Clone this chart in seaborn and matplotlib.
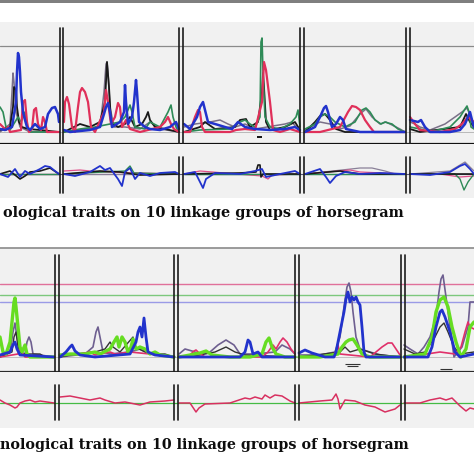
import numpy as np
import pandas as pd
import matplotlib
matplotlib.use("Agg")
import matplotlib.pyplot as plt
import seaborn as sns

# ---------------- data ----------------
caption_top = "ological traits on 10 linkage groups of horsegram"
caption_bottom = "nological traits on 10 linkage groups of horsegram"

# linkage-group separators (position pairs of the double lines)
p1_separators = [(60, 63.5), (179.5, 183), (300.5, 304.5), (406.5, 410)]
p2_separators = [(55, 59), (174, 178), (295, 299), (401, 405)]

p1_threshold = 4.3
p2_thresholds = [3.65, 3.1, 2.75]

# panel 1 LOD curves (position, LOD)
p1_red = [(0,.4),(6,.1),(8,.25),(10,0),(21,.1),(23,1.5),(25,1.6),(27,.5),(29,0),(32,.15),(34,1.1),(36,1.2),(38,.4),(41,.1),(43,.75),(45,.5),(47,0),(59,0),
          (64,.5),(65,1.5),(67,1.75),(69,1.4),(72,.25),(75,0),(78,1.25),(80,2.0),(82,2.2),(85,2.0),(88,1.5),(91,.25),(95,0),(104,1.0),(106,2.1),(108,1.5),(111,.4),(115,.75),(118,1.45),(120,1.25),(122,.25),(126,.6),(130,.15),(140,0),(160,.25),(165,.5),(168,.75),(171,.4),(174,.15),(179,0),
          (184,0),(190,0),(195,.75),(198,1.1),(200,1.0),(202,.25),(205,0),(230,0),(236,.1),(245,.15),(255,.1),(262,1.5),(264,3.5),(266,3.1),(270,1.5),(273,.1),(280,0),(290,.15),(300,0),
          (305,0),(320,0),(340,.25),(348,1.0),(352,1.3),(356,1.25),(360,1.1),(365,.6),(370,.25),(374,0),(380,0),(405,0),
          (410,.75),(415,.4),(420,.1),(440,0),(455,.15),(462,.4),(468,.75),(474,.5)]
p1_blue = [(0,.15),(5,.1),(12,.25),(16,1.5),(17,3.0),(18,3.95),(19,3.75),(20,3.0),(21,2.0),(22,1.5),(23,1.0),(25,.6),(27,.25),(30,.1),(35,.4),(40,.15),(45,.25),(48,.9),(52,1.2),(55,1.25),(58,.9),(59,.5),
           (64,.1),(70,0),(90,.1),(100,.25),(104,.9),(106,1.25),(108,1.45),(110,1.0),(112,.25),(120,.5),(124,1.0),(125,2.35),(126,1.5),(128,.4),(132,.75),(134,1.5),(136,2.6),(137,2.0),(139,.5),(145,.25),(150,.15),(160,.1),(170,.25),(176,.5),(179,.15),
           (184,.4),(190,.15),(197,.75),(200,1.25),(203,1.5),(205,1.1),(208,.5),(215,.4),(225,.25),(232,.15),(238,.5),(245,.25),(255,.15),(270,.1),(285,.15),(295,.25),(300,.1),
           (305,0),(315,.25),(320,.75),(324,1.2),(326,1.3),(328,1.0),(332,.25),(336,.4),(340,.75),(343,.6),(346,.15),(360,0),(405,0),
           (410,.6),(418,.5),(421,.6),(425,.25),(430,0),(450,0),(460,.1),(465,.4),(468,.75),(470,1.0),(472,.6),(474,.25)]
p1_green = [(0,1.25),(3,1.0),(6,.25),(10,.1),(15,.5),(18,.75),(21,.5),(25,1.0),(27,.25),(30,0),(59,0),
            (64,0),(80,.15),(95,.25),(110,.4),(120,.5),(125,.75),(128,1.1),(130,1.35),(132,1.0),(135,.25),(145,.15),(150,.5),(160,.25),(168,1.0),(171,1.35),(173,.75),(176,.25),(179,0),
            (184,0),(200,.1),(230,.15),(240,.5),(245,.6),(250,.4),(255,.25),(260,.75),(261,4.5),(262,4.7),(263,3.0),(265,.75),(270,.25),(280,.15),(290,.4),(296,.75),(298,1.1),(300,.25),
            (305,.15),(315,.4),(320,.75),(325,.9),(330,.75),(335,.5),(345,.25),(355,.5),(362,1.1),(366,1.2),(370,1.0),(375,.6),(381,.4),(385,.5),(388,.45),(392,.4),(398,.15),(405,0),
            (410,.25),(420,.15),(430,0),(450,.25),(460,.75),(465,1.15),(467,1.3),(469,1.0),(471,.25),(474,.15)]
p1_black = [(0,.1),(10,.25),(13,1.25),(14,2.25),(16,2.1),(17,1.25),(19,.5),(22,.25),(28,.15),(40,.1),(59,0),
            (64,0),(70,.15),(80,.4),(90,.25),(100,.5),(105,1.5),(107,3.5),(109,2.25),(111,.5),(118,.25),(125,.4),(130,.75),(135,.25),(142,.4),(146,.75),(148,1.0),(150,.6),(155,.25),(165,.15),(179,0),
            (184,0),(200,.25),(205,.5),(215,.15),(235,.25),(240,.6),(246,.65),(250,.25),(258,.5),(262,2.0),(263,2.95),(264,2.25),(266,.5),(270,.1),(285,.25),(295,.5),(300,.1),
            (305,0),(315,.5),(320,.8),(325,.9),(330,.6),(336,.15),(345,0),(405,0),
            (410,.15),(420,0),(460,.25),(466,.9),(470,.5),(474,.25)]
p1_gray = [(0,0),(10,.4),(12,2.0),(13,2.95),(14,2.5),(16,1.0),(20,.25),(30,0),(59,0),
           (64,0),(100,.25),(104,2.0),(106,3.4),(107,3.5),(108,3.0),(110,1.25),(114,.25),(125,.25),(140,.15),(150,.5),(160,.15),(179,0),
           (184,.25),(195,.4),(210,.5),(220,.6),(228,.4),(235,.25),(245,.4),(255,.15),(285,.4),(292,.5),(296,.25),(300,0),
           (305,.1),(320,.5),(330,.4),(340,.15),(350,.3),(360,.9),(366,1.15),(372,.75),(380,.4),(386,.5),(392,.35),(400,.15),(405,0),
           (410,.5),(415,.4),(420,.25),(430,.1),(445,.4),(455,.75),(462,1.0),(467,1.2),(471,.75),(474,.25)]

# panel 1 additive effects
p1_add_blue = [(0,0),(8,-.3),(15,.5),(20,-.3),(25,.3),(30,0),(40,.5),(45,.8),(50,.7),(55,.3),(59,0),
               (64,0),(75,-.2),(90,.2),(100,.8),(105,.4),(110,.6),(118,-.5),(122,-1.2),(125,.2),(130,.6),(135,-.5),(140,.1),(150,-.2),(160,.1),(175,.2),(179,0),
               (184,0),(195,.2),(200,-.8),(203,-1.4),(206,-.5),(215,.1),(240,0),(255,.3),(262,.5),(266,-.3),(280,0),(295,.3),(300,0),
               (305,0),(320,.5),(326,-.3),(330,-.9),(336,-.2),(345,.2),(360,0),(380,.1),(405,0),
               (410,0),(430,-.1),(450,.2),(460,.8),(465,1.0),(470,.5),(474,0)]
p1_add_black = [(0,0),(10,.3),(20,-.5),(25,-.2),(30,.2),(40,.3),(50,.6),(59,0),(64,0),(100,.3),(120,.2),(140,-.1),(179,0),
                (184,0),(240,.1),(256,.2),(258,.9),(260,.9),(261,-.3),(263,0),(300,0),(305,0),(340,.3),(360,0),(405,0),(410,0),(474,0)]
p1_add_red = [(0,0),(59,0),(64,.3),(80,.4),(100,.2),(179,0),(184,0),(200,.3),(262,-.2),(268,-.5),(272,-.1),(300,0),
              (305,0),(350,.4),(360,.2),(405,0),(410,0),(440,0),(460,-.3),(474,-.2)]
p1_add_green = [(0,0),(59,0),(64,0),(125,.3),(130,.8),(134,.1),(179,0),(184,0),(300,0),(305,0),(405,0),
                (410,0),(455,0),(460,-.5),(464,-1.6),(468,-.8),(474,0)]
p1_add_gray = [(0,0),(59,0),(64,0),(179,0),(184,0),(300,0),(305,0),(360,.6),(372,.6),(385,.3),(395,0),(405,0),
               (410,0),(450,.3),(465,1.2),(474,.3)]

# panel 2 LOD curves
p2_green = [(0,1.0),(3,.25),(6,.15),(10,.75),(12,1.75),(14,2.75),(15,2.95),(16,2.5),(18,1.5),(20,.5),(22,.25),(25,.6),(27,.15),(30,0),(54,0),
            (60,.1),(70,.15),(85,.15),(95,.25),(100,.15),(110,.4),(114,.75),(117,1.0),(119,.5),(122,1.0),(125,.75),(128,.25),(131,.5),(133,.9),(136,.4),(140,.5),(145,.4),(150,.15),(155,.25),(160,.1),(174,0),
            (179,0),(190,.1),(200,.2),(206,.3),(212,.1),(230,0),(250,0),(262,.15),(266,.75),(269,.95),(272,.5),(276,.15),(285,0),(295,0),
            (299,0),(320,0),(338,.15),(342,.5),(346,.75),(349,.85),(353,.9),(357,.6),(362,.15),(370,0),(400,0),
            (404,0),(425,.15),(432,1.0),(436,2.25),(440,2.85),(444,3.0),(448,2.5),(452,1.5),(456,.75),(461,0),(466,.4),(470,1.5),(474,1.75)]
p2_blue = [(0,.1),(10,.25),(13,.6),(15,.75),(17,.4),(20,.1),(54,0),
           (60,0),(66,.25),(70,.5),(72,.6),(75,.3),(80,.1),(95,0),(130,.15),(136,.75),(138,1.25),(140,1.5),(142,1.0),(144,1.95),(146,1.0),(148,.25),(155,.1),(174,0),
           (179,0),(240,0),(245,.25),(248,.85),(250,.75),(253,.15),(258,.25),(262,0),(295,0),
           (299,.2),(305,.35),(312,.2),(325,0),(334,0),(336,.25),(338,.75),(340,1.25),(342,1.75),(344,2.25),(346,2.9),(348,3.25),(350,2.75),(352,3.0),(354,2.85),(356,3.0),(358,2.75),(360,2.6),(362,1.5),(364,.25),(366,0),(400,0),
           (404,0),(428,0),(432,.5),(436,1.5),(440,2.25),(442,2.35),(445,2.0),(450,1.25),(455,.25),(460,0),(474,.15)]
p2_red = [(0,0),(18,.15),(20,.5),(22,.25),(25,0),(54,0),
          (60,.1),(80,.15),(90,.25),(95,.1),(110,.25),(115,.15),(130,.25),(150,.15),(174,0),
          (179,0),(190,.1),(194,.3),(196,.35),(199,.2),(205,0),(262,0),(268,.25),(273,.6),(276,.4),(280,.75),(283,.95),(287,.75),(291,.4),(295,.15),
          (299,0),(330,0),(336,.25),(338,.6),(340,.15),(370,0),(376,.25),(382,.5),(388,.7),(392,.7),(396,.4),(400,.1),
          (404,0),(420,.1),(440,.25),(455,.15),(461,.5),(465,1.25),(468,1.75),(470,1.5),(474,1.4)]
p2_purple = [(0,0),(10,.25),(13,1.25),(15,1.7),(17,1.0),(20,.25),(25,.15),(27,.75),(29,1.0),(31,.75),(33,.15),(40,.1),(54,0),
             (60,0),(85,.15),(93,.5),(96,1.25),(98,1.5),(100,1.0),(103,.25),(110,.15),(130,.25),(140,.4),(150,.15),(174,0),
             (179,.15),(185,.4),(192,.3),(200,.15),(210,.25),(218,.6),(226,.85),(234,.6),(240,.15),(255,.15),(275,.25),(282,.6),(290,.4),(295,.15),
             (299,.1),(320,.1),(335,.25),(340,1.0),(344,2.5),(347,3.5),(349,3.7),(351,3.25),(353,2.25),(356,1.0),(360,.4),(370,.25),(380,.1),(400,0),
             (404,.6),(410,.4),(418,.15),(424,.5),(430,1.0),(436,2.0),(439,3.25),(441,3.9),(443,4.1),(446,3.0),(450,1.5),(454,0),(462,.5),(468,1.5),(470,2.75),(474,2.75)]
p2_black = [(0,0),(12,.25),(14,1.0),(16,1.25),(18,.5),(22,.15),(40,.15),(45,0),(54,0),
            (60,0),(75,.15),(95,.25),(105,.4),(110,.75),(113,.5),(120,.25),(133,1.0),(135,.5),(145,.25),(155,.15),(165,.15),(174,0),
            (179,0),(200,.1),(215,.25),(226,.5),(235,.25),(245,.1),(295,0),
            (299,0),(340,.25),(345,.5),(350,.25),(360,.4),(375,.15),(400,0),
            (404,.4),(415,.15),(425,.25),(435,1.0),(440,1.5),(444,1.7),(448,1.25),(454,.5),(460,.15),(474,.25)]

# panel 2 additive effects
p2_add_red = [(0,.3),(5,0),(10,-.2),(15,-.5),(17,-.4),(20,0),(25,.2),(30,.3),(35,.1),(40,.2),(54,0),
              (60,.6),(70,.7),(80,.5),(90,.3),(100,.5),(105,.3),(115,0),(125,.1),(140,-.2),(150,.1),(165,.2),(174,.3),
              (179,0),(190,0),(194,-.6),(196,-.9),(199,-.5),(205,-.1),(230,0),(245,.5),(250,.4),(255,.6),(262,.4),(265,.8),(270,.5),(275,.8),(282,.7),(290,.2),(295,0),
              (299,0),(320,.2),(332,.3),(336,.9),(338,.4),(340,-.6),(345,.3),(355,.2),(365,-.2),(375,-.4),(385,-.9),(395,-.6),(400,-.2),
              (404,0),(420,0),(430,.3),(440,.5),(446,.3),(452,.5),(460,-.3),(466,-.8),(470,-.5),(474,-.6)]

# QTL support intervals (start, end, level)
p1_intervals = [(257, 262, -0.25)]
p2_intervals = [(345, 360, -0.35), (347, 358, -0.45), (440, 452, -0.6), (441, 450, -0.7)]

# ---------------- drawing ----------------
sns.set_theme(style="white")
plt.rcParams["font.family"] = ["DejaVu Sans"]

W = H = 474
fig = plt.figure(figsize=(W / 100, H / 100), dpi=100)
fig.patch.set_facecolor("white")

def px_axes(top, bottom):
    return fig.add_axes([0, 1 - bottom / H, 1, (bottom - top) / H])

BG = "#f1f1f1"
ax1 = px_axes(22, 144)
ax1b = px_axes(144, 198)
ax2 = px_axes(248, 372)
ax2b = px_axes(372, 428)
for ax in (ax1, ax1b, ax2, ax2b):
    ax.set_facecolor(BG)
    ax.set_xlim(0, 474)
    ax.set_xticks([])
    ax.set_yticks([])
    for s in ax.spines.values():
        s.set_visible(False)
ax1.set_ylim(-0.6, 5.5)
ax1b.set_ylim(-2.4, 3.0)
ax2.set_ylim(-0.75, 5.45)
ax2b.set_ylim(-2.5, 3.1)

def to_df(pairs, seps):
    arr = np.array(pairs, dtype=float)
    bounds = [(a + b) / 2 for a, b in seps]
    return pd.DataFrame({"pos": arr[:, 0], "val": arr[:, 1],
                         "lg": np.searchsorted(bounds, arr[:, 0])})

def draw(ax, pairs, seps, color, lw, z=2):
    df = to_df(pairs, seps)
    sns.lineplot(data=df, x="pos", y="val", units="lg", estimator=None,
                 color=color, linewidth=lw, ax=ax, legend=False, zorder=z)
    ax.set_xlabel("")
    ax.set_ylabel("")

# panel 1
ax1.axhline(0, color="#b0b0b0", lw=0.6, zorder=1)
ax1.axhline(p1_threshold, color="#8a8a8a", lw=0.9, zorder=1)
draw(ax1, p1_gray, p1_separators, "#7a7088", 1.1)
draw(ax1, p1_black, p1_separators, "#1a1a1a", 1.3)
draw(ax1, p1_green, p1_separators, "#2e8b57", 1.2)
draw(ax1, p1_red, p1_separators, "#e0305a", 1.6)
draw(ax1, p1_blue, p1_separators, "#2233cc", 1.8)
for a, b, lev in p1_intervals:
    ax1.hlines(lev, a, b, color="#111111", lw=1.4)
ax1b.axhline(0, color="#555577", lw=0.8, zorder=1)
draw(ax1b, p1_add_gray, p1_separators, "#8a8098", 0.9)
draw(ax1b, p1_add_red, p1_separators, "#e0508a", 0.9)
draw(ax1b, p1_add_green, p1_separators, "#2e8b57", 1.0)
draw(ax1b, p1_add_black, p1_separators, "#1a1a1a", 1.2)
draw(ax1b, p1_add_blue, p1_separators, "#2233cc", 1.3)

# panel 2
ax2.axhline(0, color="#b8b8b8", lw=0.6, zorder=1)
for lev, c in zip(p2_thresholds, ["#e0709a", "#7cc87c", "#9a9ae6"]):
    ax2.axhline(lev, color=c, lw=1.0, zorder=1)
draw(ax2, p2_purple, p2_separators, "#6e5f90", 1.2)
draw(ax2, p2_black, p2_separators, "#333333", 1.0)
draw(ax2, p2_red, p2_separators, "#e0306a", 1.2)
draw(ax2, p2_green, p2_separators, "#66dd22", 2.4)
draw(ax2, p2_blue, p2_separators, "#2233cc", 2.0)
for a, b, lev in p2_intervals:
    ax2.hlines(lev, a, b, color="#333333", lw=0.8)
ax2b.axhline(0, color="#44bb44", lw=0.9, zorder=1)
draw(ax2b, p2_add_red, p2_separators, "#d83060", 1.1)

# separators (double lines)
def seps(ax, pairs, y0, y1):
    for a, b in pairs:
        for x in (a, b):
            ax.axvline(x, ymin=y0, ymax=y1, color="#1c1c1c", lw=1.2, zorder=5)

seps(ax1, p1_separators, 0, 0.95)
seps(ax1b, p1_separators, (198 - 193) / 54, (198 - 157) / 54)
seps(ax2, p2_separators, 0, 0.94)
seps(ax2b, p2_separators, (428 - 420) / 56, (428 - 385) / 56)

# borders
ax1.spines["bottom"].set_visible(True)
ax1.spines["bottom"].set_color("#111111")
ax1.spines["bottom"].set_linewidth(1.6)
ax2.spines["bottom"].set_visible(True)
ax2.spines["bottom"].set_color("#2a2a2a")
ax2.spines["bottom"].set_linewidth(1.6)
ax2.spines["top"].set_visible(True)
ax2.spines["top"].set_color("#8a8a8a")
ax2.spines["top"].set_linewidth(1.2)

# top dark band
fig.add_artist(plt.Rectangle((0, 1 - 2.5 / H), 1, 2.5 / H, transform=fig.transFigure,
                             color="#7f7f7f", lw=0))

# captions
fig.canvas.draw()
r = fig.canvas.get_renderer()
t1 = fig.text(404 / W, 1 - 213 / H, caption_top, ha="right", va="center",
              family="DejaVu Serif", weight="bold", fontsize=9, color="#0d0d0d")
bb = t1.get_window_extent(r)
fs = 9 * 402 / bb.width
t1.set_fontsize(fs)
t2 = fig.text(409 / W, 1 - 445 / H, caption_bottom, ha="right", va="center",
              family="DejaVu Serif", weight="bold", fontsize=fs, color="#0d0d0d")
bb2 = t2.get_window_extent(r)
if bb2.x0 < 1:
    t2.set_fontsize(fs * 407 / bb2.width)

fig.savefig("out.png", dpi=100, facecolor="white")
